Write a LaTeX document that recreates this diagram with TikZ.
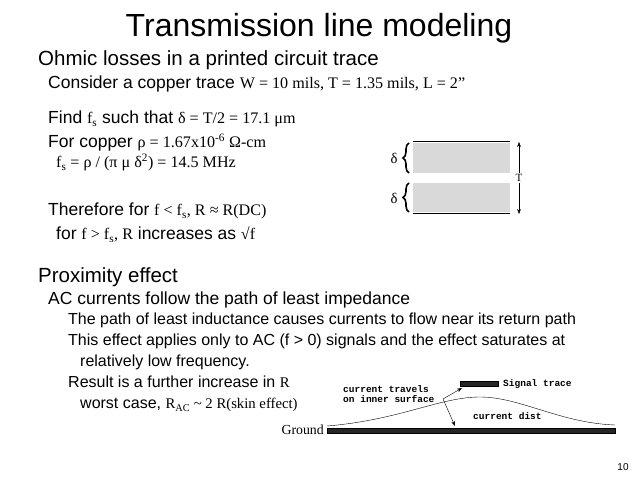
\documentclass[tikz,border=0pt]{standalone}
\usepackage{fontspec}
\setmainfont{Liberation Sans}
\newfontfamily\srf[Scale=0.92]{Liberation Serif}
\newfontfamily\mono{Liberation Mono}
\usetikzlibrary{decorations.pathreplacing,arrows.meta}
\begin{document}
\begin{tikzpicture}[x=1pt,y=-1pt,
  t/.style={anchor=base west,inner sep=0pt},
  l1/.style={t,font=\fontsize{20.5}{22}\selectfont},
  l2/.style={t,font=\fontsize{17.5}{19}\selectfont},
  l3/.style={t,font=\fontsize{16}{17}\selectfont},
  ml/.style={t,font=\mono\fontsize{9.5}{10}\selectfont\bfseries},
  bar/.style={fill=black!85,draw=black}]
\useasboundingbox (0,0) rectangle (638,478);
\node[anchor=base,inner sep=0pt,font=\fontsize{32}{34}\selectfont] (title) at (319,37) {Transmission line modeling};
\node[l1] (a) at (38,66) {Ohmic losses in a printed circuit trace};
\node[l2] (b) at (48,89) {Consider a copper trace {\srf W = 10 mils, T = 1.35 mils, L = 2”}};
\node[l2] (c) at (48,124) {Find {\srf f\textsubscript{s}} such that {\srf δ = T/2 = 17.1 μm}};
\node[l2] (d) at (48,148) {For copper {\srf ρ = 1.67x10\textsuperscript{-6} Ω-cm}};
\node[l2] (e) at (56,168) {\srf f\textsubscript{s} = ρ / (π μ δ\textsuperscript{2}) = 14.5 MHz};
\node[l2] (f) at (48,216) {Therefore for {\srf f < f\textsubscript{s}, R ≈ R(DC)}};
\node[l2] (g) at (56,240) {for {\srf f > f\textsubscript{s}, R} increases as {\srf √f}};
\node[l1] (h) at (38,283) {Proximity effect};
\node[l2] (i) at (48,305) {AC currents follow the path of least impedance};
\node[l3] (j) at (68,325) {The path of least inductance causes currents to flow near its return path};
\node[l3] (k) at (68,346) {This effect applies only to AC (f > 0) signals and the effect saturates at};
\node[l3] (m) at (80,367) {relatively low frequency.};
\node[l3] (n) at (68,388) {Result is a further increase in {\srf R}};
\node[l3] (o) at (80,409) {worst case, {\srf R\textsubscript{AC} \textasciitilde\ 2 R(skin effect)}};
\node[anchor=base,inner sep=0pt,font=\fontsize{10}{11}\selectfont] (pg) at (623,471) {10};
% skin diagram
\fill[black!15] (413,143) rectangle (510,173);
\fill[black!15] (413,183) rectangle (510,212);
\draw[line width=1pt] (413,142) -- (510,142);
\draw[line width=1pt] (413,214) -- (510,214);
\coordinate (tt) at (519,142); \coordinate (tb) at (519,214);
\node[inner sep=1pt,fill=white,font=\srf\fontsize{12}{12}\selectfont] (T) at (519,178) {T};
\draw[-{Stealth[length=5pt]}] (T) -- (tt);
\draw[-{Stealth[length=5pt]}] (T) -- (tb);
\draw[decorate,decoration={brace,amplitude=6pt},line width=1.6pt] (409,173) -- (409,143);
\draw[decorate,decoration={brace,amplitude=6pt},line width=1.6pt] (409,212) -- (409,183);
\node[inner sep=0pt,font=\srf\fontsize{16}{16}\selectfont] (d1) at (394,158) {δ};
\node[inner sep=0pt,font=\srf\fontsize{16}{16}\selectfont] (d2) at (394,198) {δ};
% proximity diagram
\draw[bar] (327,428) rectangle (615,433);
\draw[bar] (460,381) rectangle (498,386);
\node[anchor=base east,inner sep=0pt,font=\srf\fontsize{15}{15}\selectfont] (gnd) at (324,435) {Ground};
\node[ml] (st) at (503,387) {Signal trace};
\node[ml] (ct) at (343,393) {current travels};
\node[ml] (ois) at (343,403) {on inner surface};
\node[ml] (cd) at (473,420) {current dist};
\draw (327,426) .. controls (400,420) and (440,397) .. (480,397) .. controls (520,397) and (560,423) .. (615,425);
\coordinate (ap) at (443,399);
\draw[-{Stealth[length=5pt]}] (ap) -- (462,388);
\draw[-{Stealth[length=5pt]}] (ap) -- (455,426);
\end{tikzpicture}
\end{document}
